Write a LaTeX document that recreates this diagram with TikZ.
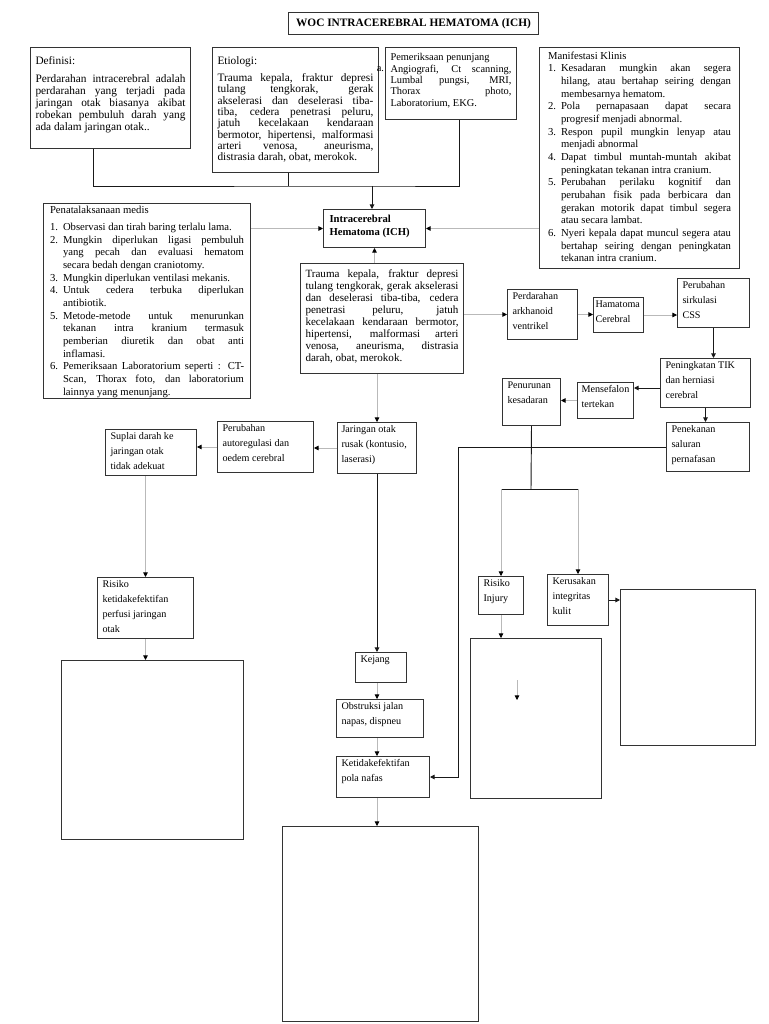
\documentclass[tikz,border=0pt]{standalone}
\usepackage{fontspec}
\setmainfont{Liberation Serif}
\usetikzlibrary{arrows.meta, calc, positioning}

\newdimen\satu \satu=0.75pt
\newcommand{\isi}[3]{\parbox[c][#2\satu][t]{#1\satu}{\tolerance=10000\hyphenpenalty=10000 #3}}
\newcommand{\butir}[2]{\par\noindent\hangindent=9.75pt\hangafter=1\makebox[9.75pt][l]{#1}#2}
\newcommand{\hurufjudul}{\fontsize{8.5}{10}\selectfont\bfseries}
\newcommand{\hurufbesar}{\fontsize{8.5}{9}\selectfont}
\newcommand{\hurufkecil}{\fontsize{7.6}{11.25}\selectfont}

\tikzset{
  kotak/.style={draw=black!80, line width=0.75pt, anchor=north west, inner xsep=3.75pt, inner ysep=2.25pt, font=\hurufbesar},
  kotakkecil/.style={kotak, font=\hurufkecil},
  kosong/.style 2 args={draw=black!80, line width=0.75pt, anchor=north west, inner sep=0pt, minimum width=#1*0.75pt, minimum height=#2*0.75pt},
  garis/.style={draw=black!90, line width=0.7pt},
  panah/.style={draw=gray!55, line width=0.6pt, -{Triangle[length=3.4pt, width=3.4pt, color=black]}},
  panahhitam/.style={garis, -{Triangle[length=3.4pt, width=3.4pt]}},
}

\begin{document}
\begin{tikzpicture}[x=0.75pt, y=-0.75pt]
\useasboundingbox (0,0) rectangle (768,1024);

% Judul
\node[kotak, minimum width=187.5pt, minimum height=16.5pt, inner sep=0pt, font=\hurufjudul] (judul) at (288,12) {WOC INTRACEREBRAL HEMATOMA (ICH)};

% Baris atas
\node[kotak, inner ysep=7pt] (def) at (30,47) {\isi{150}{82}{Definisi:\par\vspace{4pt}Perdarahan intracerebral adalah\linebreak perdarahan yang terjadi pada\linebreak jaringan otak biasanya akibat\linebreak robekan pembuluh darah yang\linebreak ada dalam jaringan otak..}};
\node[kotak, inner ysep=7pt, font=\fontsize{8.5}{8.5}\selectfont] (eti) at (212,47) {\isi{156}{106}{Etiologi:\par\vspace{4pt}Trauma kepala, fraktur depresi\linebreak tulang tengkorak, gerak\linebreak akselerasi dan deselerasi tiba-\linebreak tiba, cedera penetrasi peluru,\linebreak jatuh kecelakaan kendaraan\linebreak bermotor, hipertensi, malformasi\linebreak arteri venosa, aneurisma,\linebreak distrasia darah, obat, merokok.}};
\node[kotak, inner ysep=4.5pt, font=\fontsize{7.8}{8.5}\selectfont] (pem) at (385,47) {\isi{121}{60}{Pemeriksaan penunjang\par Angiografi, Ct scanning,\linebreak Lumbal pungsi, MRI,\linebreak Thorax photo,\linebreak Laboratorium, EKG.}};
\node[anchor=east, inner sep=0.5pt, font=\fontsize{7.8}{8.5}\selectfont] (pem-a) at (385,69) {a.};
\node[kotak, inner xsep=6.4pt, inner ysep=3pt, font=\fontsize{8}{9.5}\selectfont] (man) at (539,47) {\isi{183}{213}{Manifestasi Klinis
\butir{1.}{Kesadaran mungkin akan segera\linebreak hilang, atau bertahap seiring dengan\linebreak membesarnya hematom.}
\butir{2.}{Pola pernapasaan dapat secara\linebreak progresif menjadi abnormal.}
\butir{3.}{Respon pupil mungkin lenyap atau\linebreak menjadi abnormal}
\butir{4.}{Dapat timbul muntah-muntah akibat\linebreak peningkatan tekanan intra cranium.}
\butir{5.}{Perubahan perilaku kognitif dan\linebreak perubahan fisik pada berbicara dan\linebreak gerakan motorik dapat timbul segera\linebreak atau secara lambat.}
\butir{6.}{Nyeri kepala dapat muncul segera atau\linebreak bertahap seiring dengan peningkatan\linebreak tekanan intra cranium.}}};

% Tengah
\node[kotak, inner xsep=4.9pt, font=\fontsize{8}{9.5}\selectfont] (pnt) at (43,203) {\isi{194}{189}{Penatalaksanaan medis\par\vspace{3pt}
\butir{1.}{Observasi dan tirah baring terlalu lama.}
\butir{2.}{Mungkin diperlukan ligasi pembuluh\linebreak yang pecah dan evaluasi hematom\linebreak secara bedah dengan craniotomy.}
\butir{3.}{Mungkin diperlukan ventilasi mekanis.}
\butir{4.}{Untuk cedera terbuka diperlukan\linebreak antibiotik.}
\butir{5.}{Metode-metode untuk menurunkan\linebreak tekanan intra kranium termasuk\linebreak pemberian diuretik dan obat anti\linebreak inflamasi.}
\butir{6.}{Pemeriksaan Laboratorium seperti : CT-\linebreak Scan, Thorax foto, dan laboratorium\linebreak lainnya yang menunjang.}}};
\node[kotak, inner xsep=4.5pt, inner ysep=4.5pt, font=\fontsize{8}{9.75}\selectfont\bfseries] (ich) at (323,209) {\isi{90}{26}{Intracerebral\\ Hematoma (ICH)}};
\node[kotak, inner ysep=4.5pt, font=\fontsize{8.3}{9}\selectfont] (tr) at (300,263) {\isi{153}{98}{Trauma kepala, fraktur depresi\linebreak tulang tengkorak, gerak akselerasi\linebreak dan deselerasi tiba-tiba, cedera\linebreak penetrasi peluru, jatuh\linebreak kecelakaan kendaraan bermotor,\linebreak hipertensi, malformasi arteri\linebreak venosa, aneurisma, distrasia\linebreak darah, obat, merokok.}};

% Cabang kanan
\node[kotakkecil] (per) at (507,289) {\isi{60}{44}{Perdarahan\\ arkhanoid\\ ventrikel}};
\node[kotakkecil, inner xsep=1.5pt] (ham) at (593,297) {\isi{46}{29}{Hamatoma\\ Cerebral}};
\node[kotakkecil] (css) at (677,278) {\isi{62}{43}{Perubahan\\ sirkulasi\\ CSS}};
\node[kotakkecil] (tik) at (660,358) {\isi{80}{43}{Peningkatan TIK\\ dan herniasi\\ cerebral}};
\node[kotakkecil, inner xsep=3pt] (mens) at (577,382) {\isi{48}{30}{Mensefalon\\ tertekan}};
\node[kotakkecil] (penur) at (502,378) {\isi{48}{41}{Penurunan\\ kesadaran}};
\node[kotakkecil] (pnk) at (666,422) {\isi{73}{43}{Penekanan\\ saluran\\ pernafasan}};
\node[kotakkecil] (inj) at (478,576) {\isi{35}{32}{Risiko\\ Injury}};
\node[kotakkecil] (ker) at (547,574) {\isi{51}{45}{Kerusakan\\ integritas\\ kulit}};
\node[kosong={131}{160}] (tengah) at (470,638) {};
\node[kosong={135}{156}] (kanan) at (620,589) {};

% Cabang kiri
\node[kotakkecil, inner xsep=3pt] (jar) at (337,422) {\isi{71}{45}{Jaringan otak\\ rusak (kontusio,\\ laserasi)}};
\node[kotakkecil] (aut) at (217,421) {\isi{86}{45}{Perubahan\\ autoregulasi dan\\ oedem cerebral}};
\node[kotakkecil] (sup) at (105,429) {\isi{81}{40}{Suplai darah ke\\ jaringan otak\\ tidak adekuat}};
\node[kotakkecil] (rperf) at (97,577) {\isi{86}{55}{Risiko\\ ketidakefektifan\\ perfusi jaringan\\ otak}};
\node[kosong={182}{179}] (kiri) at (61,660) {};
\node[kotakkecil] (kej) at (355,652) {\isi{41}{24}{Kejang}};
\node[kotakkecil] (obs) at (336,699) {\isi{77}{32}{Obstruksi jalan\\ napas, dispneu}};
\node[kotakkecil] (pola) at (336,756) {\isi{83}{35}{Ketidakefektifan\\ pola nafas}};
\node[kosong={196}{195}] (bawah) at (282,826) {};

% Garis ke ICH
\coordinate (gabung) at (372,186);
\coordinate (defbawah) at ($(def.south)+(-17,0)$);
\coordinate (etibawah) at ($(eti.south)+(-7,0)$);
\coordinate (pembawah) at ($(pem.south)+(8.5,0)$);
\draw[garis] (defbawah) |- (gabung) -| (pembawah);
\draw[garis] (etibawah) -- (etibawah |- gabung);
\draw[panahhitam] (gabung) -- (gabung |- ich.north);
\draw[panah] (ich.west -| pnt.east) -- (ich.west);
\draw[panah] (ich.east -| man.west) -- (ich.east);
\draw[panah] (ich.south |- tr.north) -- (ich.south);

% Alur kanan
\draw[panah] (per.west -| tr.east) -- (per.west);
\draw[panah] (per.east) -- (per.east -| ham.west);
\draw[panah] (ham.east) -- (ham.east -| css.west);
\draw[panahhitam] (css.south) -- (css.south |- tik.north);
\coordinate (tikkiri) at ($(tik.west)+(0,5)$);
\draw[panahhitam] (tikkiri) -- (tikkiri -| mens.east);
\draw[panah] (mens.west) -- (mens.west -| penur.east);
\draw[panahhitam] (tik.south) -- (tik.south |- pnk.north);
\coordinate (belok) at (458,447);
\draw[panahhitam] (pnk.west) -| (belok |- pola.east) -- (pola.east);
\coordinate (cabang) at (531,489);
\draw[garis] (penur.south) -- (cabang);
\draw[garis] (inj.north |- cabang) -- (ker.north |- cabang);
\draw[panah] (inj.north |- cabang) -- (inj.north);
\draw[panah] (ker.north |- cabang) -- (ker.north);
\draw[panahhitam] (ker.east) -- (ker.east -| kanan.west);
\draw[panah] (inj.south) -- (inj.south |- tengah.north);
\coordinate (panahatas) at (517,680);
\coordinate (panahbawah) at (517,700);
\draw[panah] (panahatas) -- (panahbawah);

% Alur kiri
\draw[panah] (tr.south -| jar.north) -- (jar.north);
\draw[panah] (jar.west) -- (jar.west -| aut.east);
\draw[panah] (aut.west) -- (aut.west -| sup.east);
\draw[panah] (rperf.north |- sup.south) -- (rperf.north);
\draw[panah] (rperf.south) -- (rperf.south |- kiri.north);
\draw[panahhitam] (jar.south) -- (jar.south |- kej.north);
\draw[panah] (jar.south |- kej.south) -- (jar.south |- obs.north);
\draw[panah] (jar.south |- obs.south) -- (jar.south |- pola.north);
\draw[panah] (jar.south |- pola.south) -- (jar.south |- bawah.north);
\end{tikzpicture}
\end{document}
